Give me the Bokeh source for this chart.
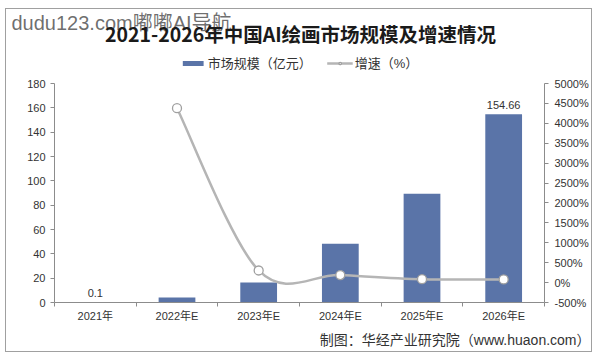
from bokeh.plotting import figure
from bokeh.models import (Range1d, LinearAxis, FixedTicker, PrintfTickFormatter,
                          Legend, LegendItem, Title, Label, ColumnDataSource)
from bokeh.embed import file_html
from bokeh.resources import INLINE

categories = ["2021年", "2022年E", "2023年E", "2024年E", "2025年E", "2026年E"]
market_size = [0.1, 4.1, 16.4, 48.2, 89.3, 154.66]
growth_years = ["2022年E", "2023年E", "2024年E", "2025年E", "2026年E"]
growth_pct = [4380, 304, 190, 85, 80]
left_ticks = [0, 20, 40, 60, 80, 100, 120, 140, 160, 180]
right_ticks = [-500, 0, 500, 1000, 1500, 2000, 2500, 3000, 3500, 4000, 4500, 5000]

FONT = "Liberation Sans, Noto Sans CJK SC"
BAR = "#5a74a8"
LINE = "#b5b5b5"

# frame extends above the axes' top to hold title and legend (axes are bounded)
AX_H, FRAME_H = 219.0, 279.0
ext = FRAME_H / AX_H
lmin, lmax = left_ticks[0], left_ticks[-1]
rmin, rmax = right_ticks[0], right_ticks[-1]

xs = list(range(len(categories)))
p = figure(width=587, height=344, output_backend="svg", toolbar_location=None,
           x_range=Range1d(-0.5, len(categories) - 0.5),
           y_range=Range1d(lmin, lmin + (lmax - lmin) * ext),
           min_border_left=48, min_border_right=49, min_border_top=14, min_border_bottom=51)
p.outline_line_color = None
p.grid.visible = False
p.styles = {"border": "1px solid #a0a0a0", "margin-left": "5px", "margin-top": "8px"}

# axes
p.xaxis.ticker = FixedTicker(ticks=xs, minor_ticks=[i - 0.5 for i in range(len(categories) + 1)])
p.xaxis.major_label_overrides = {i: c for i, c in enumerate(categories)}
p.xaxis.major_tick_out = 0
p.xaxis.major_tick_in = 0
p.xaxis.minor_tick_out = 4
p.xaxis.minor_tick_in = 0
p.yaxis.ticker = FixedTicker(ticks=left_ticks)
p.yaxis.bounds = (lmin, lmax)
p.yaxis.minor_tick_line_color = None
p.yaxis.major_tick_in = 0
p.yaxis.major_tick_out = 4
for ax in (p.xaxis[0], p.yaxis[0]):
    ax.axis_line_color = "#8c8c8c"
    ax.major_tick_line_color = "#8c8c8c"
    ax.major_label_text_font = FONT
    ax.major_label_text_font_size = "11px"
    ax.major_label_text_color = "#333333"
p.xaxis.minor_tick_line_color = "#8c8c8c"
p.xaxis.major_label_standoff = 3
p.yaxis.major_label_standoff = 5

p.extra_y_ranges = {"pct": Range1d(rmin, rmin + (rmax - rmin) * ext)}
rax = LinearAxis(y_range_name="pct", ticker=FixedTicker(ticks=right_ticks),
                 formatter=PrintfTickFormatter(format="%d%%"), bounds=(rmin, rmax))
rax.axis_line_color = "#8c8c8c"
rax.major_tick_line_color = "#8c8c8c"
rax.minor_tick_line_color = None
rax.major_tick_in = 0
rax.major_tick_out = 4
rax.major_label_standoff = 6
rax.major_label_text_font = FONT
rax.major_label_text_font_size = "11px"
rax.major_label_text_color = "#333333"
p.add_layout(rax, "right")

# bars
bsrc = ColumnDataSource(dict(x=xs, top=market_size))
bars = p.vbar(x="x", top="top", width=0.45, source=bsrc, fill_color=BAR, line_color=None)

for i in (0, len(categories) - 1):
    v = market_size[i]
    p.add_layout(Label(x=xs[i], y=v, text=("%g" % v), text_align="center", text_baseline="bottom",
                       y_offset=5, text_font=FONT, text_font_size="11px", text_color="#333333"))

# smoothed growth line (Catmull-Rom -> bezier through the data points)
gx = [categories.index(c) for c in growth_years]
gy = growth_pct
n = len(gx)
x0s, y0s, x1s, y1s, cx0, cy0, cx1, cy1 = [], [], [], [], [], [], [], []
for i in range(n - 1):
    pa = (gx[max(i - 1, 0)], gy[max(i - 1, 0)])
    p1 = (gx[i], gy[i])
    p2 = (gx[i + 1], gy[i + 1])
    pb = (gx[min(i + 2, n - 1)], gy[min(i + 2, n - 1)])
    x0s.append(p1[0]); y0s.append(p1[1]); x1s.append(p2[0]); y1s.append(p2[1])
    cx0.append(p1[0] + (p2[0] - pa[0]) / 6); cy0.append(p1[1] + (p2[1] - pa[1]) / 6)
    cx1.append(p2[0] - (pb[0] - p1[0]) / 6); cy1.append(p2[1] - (pb[1] - p1[1]) / 6)
curve = p.bezier(x0=x0s, y0=y0s, x1=x1s, y1=y1s, cx0=cx0, cy0=cy0, cx1=cx1, cy1=cy1,
                 y_range_name="pct", line_color=LINE, line_width=2.5)
lsrc = ColumnDataSource(dict(x=gx, y=gy))
pts = p.scatter(x="x", y="y", source=lsrc, y_range_name="pct", marker="circle", size=9,
                fill_color="white", line_color="#a0a0a0", line_width=1.3)

legend = Legend(items=[LegendItem(label="市场规模（亿元）", renderers=[bars]),
                       LegendItem(label="增速（%）", renderers=[curve, pts])],
                orientation="horizontal", location="top_center", border_line_color=None,
                background_fill_alpha=0, label_text_font=FONT, label_text_font_size="13px",
                label_text_color="#333333", glyph_width=26, glyph_height=6, spacing=15,
                label_standoff=2, margin=30, padding=2)
p.add_layout(legend, "center")

# chart title (inside the extended frame, above the axes)
p.add_layout(Label(x=246, y=269, x_units="screen", y_units="screen",
                   text="2021-2026年中国AI绘画市场规模及增速情况", text_align="center",
                   text_baseline="middle", text_font="Noto Sans CJK SC", text_font_size="19.5px",
                   text_font_style="bold", text_color="#1a1a1a"))

# watermark of the source page, top left
p.add_layout(Title(text="dudu123.com嘟嘟AI导航", align="left", offset=-43, standoff=-20,
                   text_font=FONT, text_font_size="20px", text_font_style="normal",
                   text_color="#555555", text_alpha=0.85), "above")

# source note
p.add_layout(Title(text="制图：华经产业研究院（www.huaon.com）", align="right", offset=-46,
                   text_font=FONT, text_font_size="14px", text_font_style="normal",
                   text_color="#333333"), "below")

open("out.html", "w").write(file_html(p, INLINE))
